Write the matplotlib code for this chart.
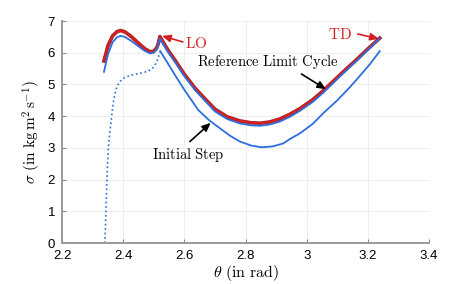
import matplotlib
matplotlib.use("Agg")
import matplotlib.pyplot as plt

plt.rcParams['mathtext.fontset'] = 'cm'
plt.rcParams['font.family'] = ['Liberation Sans', 'DejaVu Sans']

# Reference limit cycle (red) and converged step (blue, close to red)
theta_ref = [2.337, 2.350, 2.365, 2.380, 2.392, 2.405, 2.425, 2.450, 2.470, 2.488,
             2.500, 2.510, 2.515, 2.520, 2.535, 2.550, 2.569, 2.600, 2.635, 2.670,
             2.700, 2.740, 2.782, 2.820, 2.850, 2.880, 2.912, 2.945, 2.978, 3.020,
             3.054, 3.100, 3.140, 3.163, 3.200, 3.239]
sigma_ref = [5.74, 6.22, 6.53, 6.67, 6.70, 6.66, 6.52, 6.30, 6.13, 6.03,
             6.05, 6.16, 6.30, 6.51, 6.26, 6.03, 5.77, 5.32, 4.88, 4.52,
             4.22, 3.98, 3.85, 3.79, 3.78, 3.82, 3.91, 4.06, 4.24, 4.52,
             4.80, 5.22, 5.58, 5.78, 6.12, 6.46]
sigma_conv = [5.40, 5.95, 6.33, 6.49, 6.53, 6.50, 6.38, 6.20, 6.06, 5.98,
              6.00, 6.11, 6.25, 6.45, 6.20, 5.97, 5.71, 5.26, 4.82, 4.46,
              4.15, 3.91, 3.77, 3.71, 3.70, 3.74, 3.83, 3.98, 4.17, 4.45,
              4.74, 5.17, 5.54, 5.74, 6.09, 6.45]

# Initial step: dotted rise then solid swing
theta_init_a = [2.340, 2.342, 2.344, 2.347, 2.351, 2.356, 2.362, 2.367, 2.373, 2.380,
                2.390, 2.405, 2.428, 2.455, 2.482, 2.497, 2.506, 2.513, 2.518, 2.521]
sigma_init_a = [0.00, 0.55, 1.30, 2.10, 2.93, 3.50, 3.98, 4.40, 4.72, 4.95,
                5.10, 5.22, 5.30, 5.35, 5.42, 5.52, 5.65, 5.80, 5.95, 6.05]
theta_init_b = [2.521, 2.545, 2.569, 2.600, 2.645, 2.680, 2.716, 2.750, 2.782, 2.820,
                2.853, 2.890, 2.923, 2.945, 2.978, 3.020, 3.054, 3.100, 3.140, 3.163,
                3.206, 3.239]
sigma_init_b = [6.05, 5.68, 5.30, 4.83, 4.20, 3.88, 3.62, 3.38, 3.20, 3.07,
                3.02, 3.05, 3.14, 3.28, 3.46, 3.76, 4.09, 4.50, 4.90, 5.15,
                5.63, 6.05]

xticks = [2.2, 2.4, 2.6, 2.8, 3.0, 3.2, 3.4]
xticklabels = ['2.2', '2.4', '2.6', '2.8', '3', '3.2', '3.4']
yticks = [0, 1, 2, 3, 4, 5, 6, 7]

RED = '#d42020'
BLUE = '#2c6ee0'

fig = plt.figure(figsize=(4.74, 2.84), dpi=100)
ax = fig.add_axes([0.131, 0.144, 0.774, 0.782])

ax.plot(theta_init_a, sigma_init_a, ':', color=BLUE, lw=1.2)
ax.plot(theta_init_b, sigma_init_b, '-', color=BLUE, lw=1.3)
ax.plot(theta_ref, sigma_ref, '-', color='#a02020', lw=2.6)
ax.plot(theta_ref, sigma_ref, '-', color=RED, lw=1.6)
ax.plot(theta_ref, sigma_conv, '-', color=BLUE, lw=1.3)

ax.set_xlim(2.2, 3.4)
ax.set_ylim(0, 7)
ax.set_xticks(xticks)
ax.set_xticklabels(xticklabels)
ax.set_yticks(yticks)
ax.tick_params(direction='in', labelsize=9.5, length=3, color='#888888', width=0.8)
ax.tick_params(axis='x', pad=5)
ax.tick_params(axis='y', pad=5)
ax.grid(True, color='#ebebeb', lw=0.6)
ax.set_axisbelow(True)
for s in ['top', 'right']:
    ax.spines[s].set_visible(False)
for s in ['left', 'bottom']:
    ax.spines[s].set_color('#9a9a9a')
    ax.spines[s].set_linewidth(1.4)

ax.set_xlabel(r'$\theta\ \mathrm{(in\ rad)}$', fontsize=11.5, labelpad=1)
ax.set_ylabel(r'$\sigma\ \mathrm{(in\ kg\,m^2\,s^{-1})}$', fontsize=11, labelpad=3)

arrow_k = dict(arrowstyle='-|>,head_length=0.5,head_width=0.22', color='black', lw=1.2, shrinkA=0, shrinkB=0)
arrow_r = dict(arrowstyle='-|>,head_length=0.5,head_width=0.22', color=RED, lw=1.2, shrinkA=0, shrinkB=0)

ax.annotate('', xy=(2.527, 6.53), xytext=(2.595, 6.34), arrowprops=arrow_r)
ax.text(2.602, 6.28, r'$\mathrm{LO}$', color=RED, fontsize=11, ha='left', va='center')
ax.annotate('', xy=(3.236, 6.44), xytext=(3.167, 6.59), arrowprops=arrow_r)
ax.text(3.148, 6.59, r'$\mathrm{TD}$', color=RED, fontsize=11, ha='right', va='center')
ax.annotate('', xy=(3.063, 4.85), xytext=(2.983, 5.33), arrowprops=arrow_k)
ax.text(2.873, 5.71, r'$\mathrm{Reference\ Limit\ Cycle}$', color='black', fontsize=10.5, ha='center', va='center')
ax.annotate('', xy=(2.686, 3.79), xytext=(2.618, 3.20), arrowprops=arrow_k)
ax.text(2.612, 2.78, r'$\mathrm{Initial\ Step}$', color='black', fontsize=10.5, ha='center', va='center')

fig.savefig('out.png', dpi=100)
